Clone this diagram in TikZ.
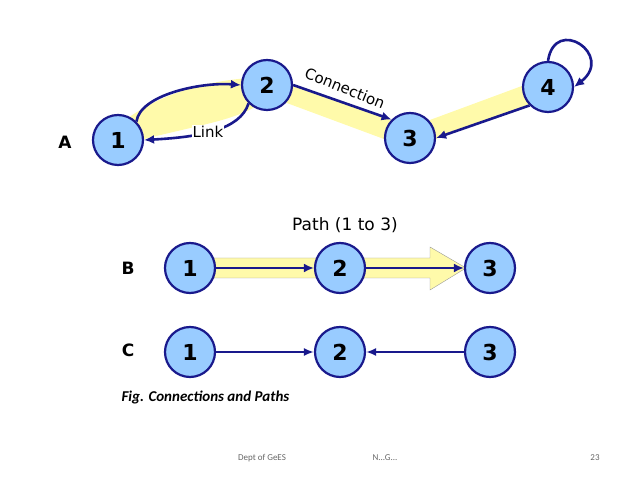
\documentclass[tikz,border=0pt]{standalone}
\usepackage{fontspec}
\setmainfont{DejaVu Sans}
\newfontfamily\calib{Carlito}
\usetikzlibrary{arrows.meta}
\definecolor{nodeblue}{RGB}{153,204,255}
\definecolor{navy}{RGB}{25,25,140}
\definecolor{hilite}{RGB}{255,250,170}
\tikzset{
  vert/.style={circle, draw=navy, line width=2.2pt, fill=nodeblue, minimum size=50pt, inner sep=0pt, font=\fontsize{22}{22}\selectfont\bfseries},
  link/.style={draw=navy, line width=2.6pt, -{Latex[length=10pt,width=9pt]}},
  thin link/.style={draw=navy, line width=1.8pt, -{Latex[length=10pt,width=8pt]}},
  rowlabel/.style={font=\fontsize{17}{17}\selectfont\bfseries},
  band/.style={hilite, line width=20pt},
}
\begin{document}
\begin{tikzpicture}[x=1pt,y=-1pt]
\useasboundingbox (0,0) rectangle (638,478);
% --- A ---
\coordinate (a1) at (118,140);
\coordinate (a2) at (267,85);
\coordinate (a3) at (410,138);
\coordinate (a4) at (548,87);
\fill[hilite] (128,118) .. controls (170,88) and (220,80) .. (250,78) -- (258,105)
  .. controls (235,120) and (200,125) .. (140,140) -- cycle;
\draw[band] (a2) -- (a3) -- (a4);
\node[vert] (A1) at (a1) {1};
\node[vert] (A2) at (a2) {2};
\node[vert] (A3) at (a3) {3};
\node[vert] (A4) at (a4) {4};
\node[rowlabel] at (65,142) {A};
\draw[link] (A1.north east) .. controls (140,95) and (200,82) .. (A2.west);
\draw[link] (A2.south west) .. controls (240,130) and (200,137) .. (A1.east);
\node[fill=white, inner sep=1pt, font=\fontsize{15}{15}\selectfont] at (208,132) {Link};
\draw[link] (A2.east) -- (A3.north west);
\node[rotate=-22, font=\fontsize{15}{15}\selectfont] at (345,88) {Connection};
\draw[link] (A4.south west) -- (A3.east);
\draw[link] (A4.north) .. controls (555,15) and (615,55) .. (A4.east);
% --- B ---
\fill[hilite, draw=black!40, line width=0.4pt] (214,258) -- (430,258) -- (430,247) -- (466,268)
  -- (430,290) -- (430,278) -- (214,278) -- cycle;
\node[vert] (B1) at (190,268) {1};
\node[vert] (B2) at (340,268) {2};
\node[vert] (B3) at (490,268) {3};
\node[rowlabel] at (128,268) {B};
\node[font=\fontsize{17}{17}\selectfont] at (345,225) {Path (1 to 3)};
\draw[link] (B1) -- (B2);
\draw[link] (B2) -- (B3);
% --- C ---
\node[vert] (C1) at (190,352) {1};
\node[vert] (C2) at (340,352) {2};
\node[vert] (C3) at (490,352) {3};
\node[rowlabel] at (128,350) {C};
\draw[thin link] (C1) -- (C2);
\draw[thin link] (C3) -- (C2);
% --- caption and footer ---
\node[anchor=west, font=\calib\fontsize{15}{15}\selectfont\bfseries\itshape] at (118,397) {Fig. Connections and Paths};
\node[font=\calib\fontsize{9}{9}\selectfont, text=black!60] at (262,458) {Dept of GeES};
\node[font=\calib\fontsize{9}{9}\selectfont, text=black!60] at (385,458) {N...G...};
\node[font=\calib\fontsize{9}{9}\selectfont, text=black!60] at (595,458) {23};
\end{tikzpicture}
\end{document}
